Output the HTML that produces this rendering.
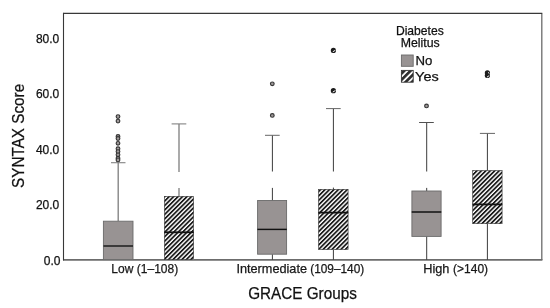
<!DOCTYPE html>
<html>
<head>
<meta charset="utf-8">
<title>SYNTAX Score by GRACE Groups</title>
<style>
html,body{margin:0;padding:0;background:#fff;}
body{width:550px;height:308px;overflow:hidden;}
svg{display:block;}
text{font-family:"Liberation Sans",sans-serif;fill:#111;stroke:#111;stroke-width:0.25px;}
.yt{font-size:12px;text-anchor:end;}
.xt{font-size:12.6px;fill:#1a1a1a;}
</style>
</head>
<body>
<svg width="550" height="308" viewBox="0 0 550 308">
<defs>
<pattern id="h" patternUnits="userSpaceOnUse" x="0" y="0" width="3.15" height="3.15" patternTransform="rotate(-45)">
<rect x="0" y="0" width="3.15" height="3.15" fill="#fff"/>
<rect x="0" y="0" width="3.15" height="1.75" fill="#1a1a1a"/>
</pattern>
<pattern id="h1" patternUnits="userSpaceOnUse" x="0" y="2.62" width="3.15" height="3.15" patternTransform="rotate(-45)">
<rect x="0" y="0" width="3.15" height="3.15" fill="#fff"/>
<rect x="0" y="0" width="3.15" height="1.75" fill="#1a1a1a"/>
</pattern>
<pattern id="h2" patternUnits="userSpaceOnUse" x="0" y="0.78" width="3.15" height="3.15" patternTransform="rotate(-45)">
<rect x="0" y="0" width="3.15" height="3.15" fill="#fff"/>
<rect x="0" y="0" width="3.15" height="1.75" fill="#1a1a1a"/>
</pattern>
<pattern id="h3" patternUnits="userSpaceOnUse" x="0" y="0.37" width="3.15" height="3.15" patternTransform="rotate(-45)">
<rect x="0" y="0" width="3.15" height="3.15" fill="#fff"/>
<rect x="0" y="0" width="3.15" height="1.75" fill="#1a1a1a"/>
</pattern>
<pattern id="hl" patternUnits="userSpaceOnUse" x="0" y="3.11" width="4.42" height="4.42" patternTransform="rotate(-45)">
<rect x="0" y="0" width="4.42" height="4.42" fill="#fff"/>
<rect x="0" y="0" width="4.42" height="2.72" fill="#2e2e2e"/>
</pattern>
</defs>
<rect x="0" y="0" width="550" height="308" fill="#fff"/>
<!-- frame -->
<line x1="63" y1="259.9" x2="542.4" y2="259.9" stroke="#6c6c6c" stroke-width="1.8"/>
<line x1="541.8" y1="13.4" x2="541.8" y2="260" stroke="#6c6c6c" stroke-width="1.3"/>
<line x1="63.5" y1="12.9" x2="63.5" y2="260.4" stroke="#383838" stroke-width="1.1"/>
<line x1="63" y1="13.4" x2="542.3" y2="13.4" stroke="#383838" stroke-width="1.1"/>

<!-- y tick labels -->
<text class="yt" x="59.3" y="43.1">80.0</text>
<text class="yt" x="59.3" y="98.1">60.0</text>
<text class="yt" x="59.3" y="153.8">40.0</text>
<text class="yt" x="59.3" y="209.3">20.0</text>
<text class="yt" x="60.4" y="264.9">0.0</text>

<!-- y title -->
<text transform="translate(24.4,135.9) rotate(-90) scale(1,1.07)" text-anchor="middle" font-size="15.3">SYNTAX Score</text>
<!-- x title -->
<text x="248.2" y="298.7" font-size="15.8" textLength="108.6" lengthAdjust="spacingAndGlyphs">GRACE Groups</text>

<!-- x labels -->
<text class="xt" x="111.3" y="272.6" textLength="22" lengthAdjust="spacingAndGlyphs">Low</text>
<text class="xt" x="136.8" y="272.6" textLength="41.4" lengthAdjust="spacingAndGlyphs">(1–108)</text>
<text class="xt" x="236.4" y="272.6" textLength="70.6" lengthAdjust="spacingAndGlyphs">Intermediate</text>
<text class="xt" x="310.2" y="272.6" textLength="54" lengthAdjust="spacingAndGlyphs">(109–140)</text>
<text class="xt" x="423.2" y="272.6" textLength="26.2" lengthAdjust="spacingAndGlyphs">High</text>
<text class="xt" x="453.1" y="272.6" textLength="35" lengthAdjust="spacingAndGlyphs">(&gt;140)</text>

<!-- legend -->
<text x="395.9" y="34.6" font-size="12.7" textLength="47.8" lengthAdjust="spacingAndGlyphs">Diabetes</text>
<text x="400.7" y="46.7" font-size="12.7" textLength="39" lengthAdjust="spacingAndGlyphs">Melitus</text>
<rect x="401.4" y="55" width="11.8" height="11.3" fill="#989393" stroke="#6a6a6a" stroke-width="0.9"/>
<rect x="401.4" y="70.4" width="11.8" height="11.8" fill="url(#hl)" stroke="#333" stroke-width="0.9"/>
<text x="415.6" y="65.3" font-size="13.2" stroke-width="0.4">No</text>
<text x="415.1" y="81.2" font-size="13.4" stroke-width="0.4" textLength="23.6" lengthAdjust="spacingAndGlyphs">Yes</text>

<!-- Low / No -->
<g stroke="#828282" stroke-width="1.35" fill="none">
<line x1="118.2" y1="162.6" x2="118.2" y2="221"/>
<line x1="111" y1="162.7" x2="125.5" y2="162.7" stroke-width="1.1"/>
</g>
<rect x="103.4" y="221.2" width="29.6" height="38.4" fill="#989393" stroke="#6a6a6a" stroke-width="0.9"/>
<line x1="103.4" y1="246" x2="133" y2="246" stroke="#303030" stroke-width="1.8"/>
<g fill="#a09b9b" stroke="#363636" stroke-width="1.15">
<circle cx="118" cy="116.6" r="1.85"/>
<circle cx="118" cy="121.1" r="1.85"/>
<circle cx="118" cy="136.5" r="1.85"/>
<circle cx="118" cy="138.5" r="1.85"/>
<circle cx="118" cy="143.3" r="1.85"/>
<circle cx="118" cy="148.7" r="1.85"/>
<circle cx="118" cy="151.6" r="1.85"/>
<circle cx="118" cy="154.8" r="1.85"/>
<circle cx="118" cy="158.2" r="1.85"/>
<circle cx="118" cy="159.9" r="1.85"/>
</g>

<!-- Low / Yes -->
<g stroke="#828282" stroke-width="1.35" fill="none">
<line x1="179" y1="123.9" x2="179" y2="171.9"/>
<line x1="179" y1="188" x2="179" y2="196"/>
<line x1="171.6" y1="123.9" x2="186.3" y2="123.9" stroke-width="1.1"/>
</g>
<rect x="164.4" y="196.3" width="29.2" height="63.3" fill="url(#h1)" stroke="#333" stroke-width="0.6"/>
<line x1="164.2" y1="232.3" x2="193.8" y2="232.3" stroke="#111" stroke-width="1.8"/>

<!-- Int / No -->
<g stroke="#3c3c3c" stroke-width="1.0" fill="none">
<line x1="272.4" y1="135.3" x2="272.4" y2="171.5"/>
<line x1="272.4" y1="187.9" x2="272.4" y2="200.5"/>
<line x1="265" y1="135.3" x2="279.7" y2="135.3" stroke="#666"/>
<line x1="272.4" y1="254.2" x2="272.4" y2="259.8"/>
</g>
<rect x="257.6" y="200.5" width="29" height="53.7" fill="#989393" stroke="#6a6a6a" stroke-width="0.9"/>
<line x1="257.4" y1="229.4" x2="286.8" y2="229.4" stroke="#111" stroke-width="1.45"/>
<g fill="#a09b9b" stroke="#363636" stroke-width="1.15">
<circle cx="272.3" cy="83.8" r="1.85"/>
<circle cx="272.3" cy="115.4" r="1.85"/>
</g>

<!-- Int / Yes -->
<g stroke="#3c3c3c" stroke-width="1.0" fill="none">
<line x1="333.4" y1="108.6" x2="333.4" y2="171.5"/>
<line x1="333.4" y1="187.6" x2="333.4" y2="189.3"/>
<line x1="326" y1="108.6" x2="340.7" y2="108.6" stroke="#666"/>
<line x1="333.4" y1="249.6" x2="333.4" y2="259.8"/>
</g>
<rect x="318.5" y="189.3" width="29.6" height="60.3" fill="url(#h2)" stroke="#333" stroke-width="0.6"/>
<line x1="318.3" y1="212.6" x2="348.3" y2="212.6" stroke="#111" stroke-width="1.8"/>
<g fill="#1c1c1c" stroke="none">
<circle cx="333.4" cy="50.4" r="2.6"/>
<circle cx="333.4" cy="90.7" r="2.6"/>
</g>
<g stroke="#fff" stroke-width="0.95" stroke-linecap="round" fill="none">
<line x1="333.1" y1="51.6" x2="335.1" y2="50.4"/>
<line x1="333.1" y1="91.9" x2="335.1" y2="90.7"/>
</g>

<!-- High / No -->
<g stroke="#3c3c3c" stroke-width="1.0" fill="none">
<line x1="426.7" y1="122.5" x2="426.7" y2="171.5"/>
<line x1="426.7" y1="187.9" x2="426.7" y2="191"/>
<line x1="419.1" y1="122.5" x2="433.8" y2="122.5" stroke="#505050"/>
<line x1="426.7" y1="236.4" x2="426.7" y2="259.8"/>
</g>
<rect x="411.9" y="191" width="29.2" height="45.4" fill="#989393" stroke="#6a6a6a" stroke-width="0.9"/>
<line x1="411.7" y1="212" x2="441.3" y2="212" stroke="#111" stroke-width="1.5"/>
<g fill="#a09b9b" stroke="#363636" stroke-width="1.15">
<circle cx="426.5" cy="105.9" r="1.85"/>
</g>

<!-- High / Yes -->
<g stroke="#3c3c3c" stroke-width="1.0" fill="none">
<line x1="487.4" y1="133.4" x2="487.4" y2="170.4"/>
<line x1="479.9" y1="133.4" x2="495" y2="133.4" stroke="#666"/>
<line x1="487.4" y1="223.6" x2="487.4" y2="259.8"/>
</g>
<rect x="472.7" y="170.5" width="29.4" height="53.2" fill="url(#h3)" stroke="#333" stroke-width="0.6"/>
<line x1="472.5" y1="204.4" x2="502.3" y2="204.4" stroke="#111" stroke-width="1.8"/>
<g fill="#1c1c1c" stroke="none">
<circle cx="487.4" cy="72.8" r="2.6"/>
<circle cx="487.4" cy="75.5" r="2.6"/>
</g>
<g stroke="#fff" stroke-width="0.95" stroke-linecap="round" fill="none">
<line x1="488.3" y1="72.6" x2="489" y2="73.2"/>
<line x1="487.2" y1="77" x2="488.9" y2="75.8"/>
</g>
</svg>
</body>
</html>
